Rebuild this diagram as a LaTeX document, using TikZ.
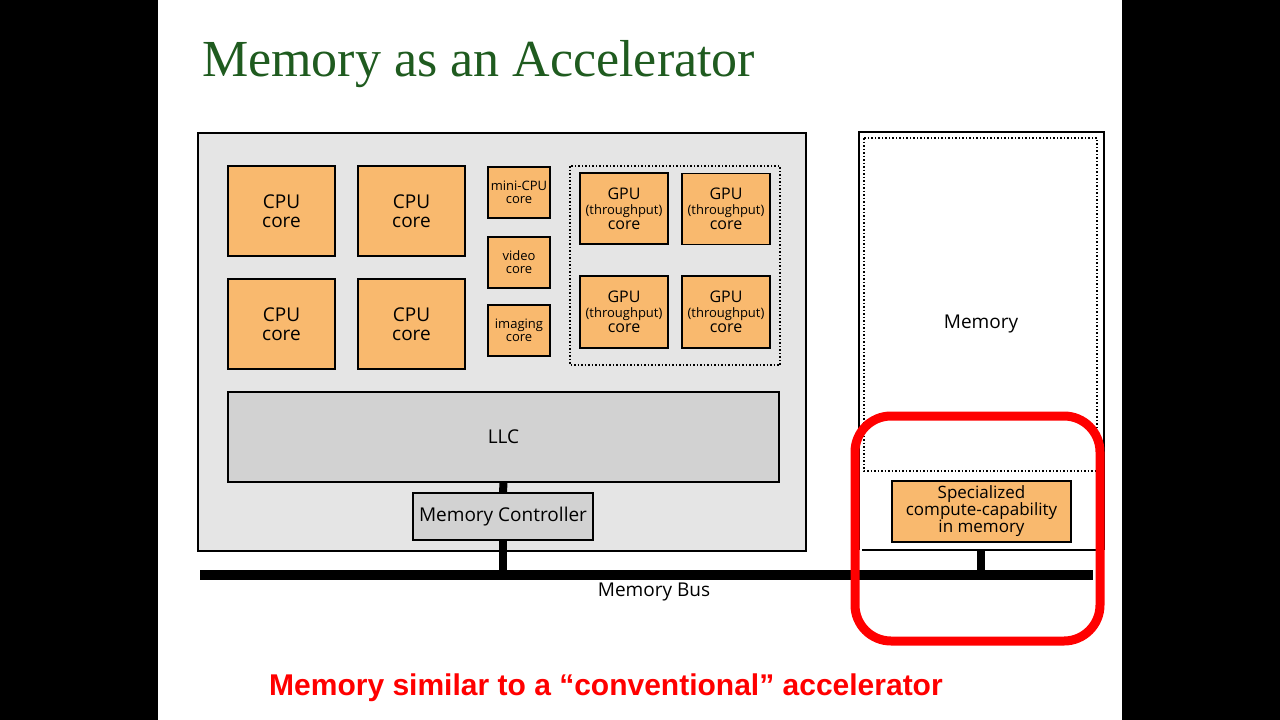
\documentclass[tikz,border=0pt]{standalone}
\usepackage{fontspec}
\setmainfont{Open Sans}
\newfontfamily\titlefont{Liberation Serif}
\newfontfamily\boldfont{Liberation Sans}
\begin{document}
\begin{tikzpicture}[x=1pt,y=-1pt,
  core/.style={draw,line width=1.2pt,fill=orng,inner sep=0pt,align=center,font=\fontsize{19}{19}\selectfont},
  small/.style={draw,line width=1.2pt,fill=orng,inner sep=0pt,align=center,font=\fontsize{13}{13}\selectfont},
  gpu/.style={draw,line width=1.2pt,fill=orng,inner sep=0pt,align=center,font=\fontsize{16}{15}\selectfont},
  grayb/.style={draw,line width=1.2pt,fill=gray!35,inner sep=0pt,align=center,font=\fontsize{19}{19}\selectfont}]
\definecolor{orng}{HTML}{F9B96E}
\definecolor{tgreen}{HTML}{1F5B1F}
\useasboundingbox (0,0) rectangle (1280,720);
\fill[black] (0,0) rectangle (158,720);
\fill[black] (1122,0) rectangle (1280,720);
\node[anchor=base west,text=tgreen,font=\titlefont\fontsize{52}{52}\selectfont,inner sep=0pt] (title) at (202,76) {Memory as an Accelerator};
\draw[line width=1.2pt,fill=gray!20] (198,133) rectangle (806,551);
\node[core,minimum width=107pt,minimum height=90pt] (c1) at (281.5,211) {CPU\\core};
\node[core,minimum width=107pt,minimum height=90pt] (c2) at (411.5,211) {CPU\\core};
\node[core,minimum width=107pt,minimum height=90pt] (c3) at (281.5,324) {CPU\\core};
\node[core,minimum width=107pt,minimum height=90pt] (c4) at (411.5,324) {CPU\\core};
\node[small,minimum width=62pt,minimum height=51pt] (mini) at (519,192.5) {mini-CPU\\core};
\node[small,minimum width=62pt,minimum height=51pt] (vid) at (519,262.5) {video\\core};
\node[small,minimum width=62pt,minimum height=51pt] (img) at (519,330.5) {imaging\\core};
\draw[line width=1.5pt,dotted] (570,166) rectangle (780,365);
\node[gpu,minimum width=88pt,minimum height=71pt] (g1) at (624,208.5) {GPU\\{\fontsize{13}{13}\selectfont(throughput)}\\core};
\node[gpu,minimum width=88pt,minimum height=71pt] (g2) at (726,209) {GPU\\{\fontsize{13}{13}\selectfont(throughput)}\\core};
\node[gpu,minimum width=88pt,minimum height=72pt] (g3) at (624,312) {GPU\\{\fontsize{13}{13}\selectfont(throughput)}\\core};
\node[gpu,minimum width=88pt,minimum height=72pt] (g4) at (726,312) {GPU\\{\fontsize{13}{13}\selectfont(throughput)}\\core};
\node[grayb,minimum width=551pt,minimum height=90pt] (llc) at (503.5,437) {LLC};
\node[grayb,minimum width=180pt,minimum height=47pt] (mc) at (503,516.5) {Memory Controller};
\coordinate (bl) at (200,575);
\coordinate (br) at (1093,575);
\coordinate (mcb) at (503,575);
\draw[line width=10pt] (bl) -- (br);
\draw[line width=8pt] (llc.south) -- (mc.north);
\draw[line width=8pt] (mc.south) -- (mcb);
\node[font=\fontsize{19}{19}\selectfont] (mbus) at (654,592) {Memory Bus};
\draw[line width=1.5pt] (859,550) -- (859,132) -- (1104,132) -- (1104,550);
\draw[line width=1.5pt,dotted] (864,138) rectangle (1097,471);
\node[font=\fontsize{19}{19}\selectfont] (mem) at (981,324) {Memory};
\node[small,font=\fontsize{17}{17}\selectfont,minimum width=179pt,minimum height=61pt] (spec) at (981.5,511.5) {Specialized\\compute-capability\\in memory};
\coordinate (ml) at (862,550);
\coordinate (mr) at (1100,550);
\coordinate (sm) at (981,550);
\coordinate (sb) at (981,575);
\draw[line width=1.2pt] (ml) -- (mr);
\draw[line width=8pt] (sm) -- (sb);
\draw[red,line width=9pt,rounded corners=36pt] (855,416) rectangle (1100,641);
\node[text=red,font=\boldfont\bfseries\fontsize{30}{30}\selectfont] (cap) at (606,688) {Memory similar to a “conventional” accelerator};
\end{tikzpicture}
\end{document}
